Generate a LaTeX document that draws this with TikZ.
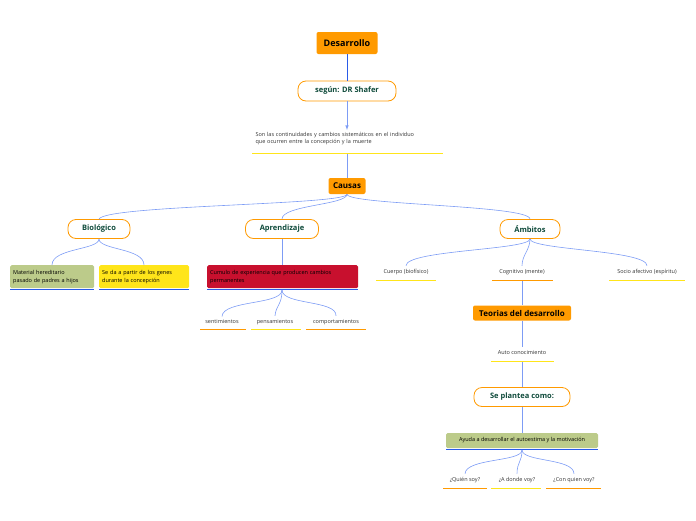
\documentclass[tikz,border=0pt]{standalone}
\usepackage{fontspec}
\setmainfont{Open Sans}
\definecolor{org}{HTML}{FF9A00}
\definecolor{dgreen}{HTML}{0E4A3A}
\definecolor{conn}{HTML}{7D9CF5}
\definecolor{yel}{HTML}{FFE51A}
\definecolor{olive}{HTML}{BCCB8A}
\definecolor{redb}{HTML}{C8102E}
\definecolor{blu}{HTML}{2A5BE8}
\begin{document}
\begin{tikzpicture}[x=1pt,y=-1pt,
 hub/.style={fill=org,rounded corners=2pt,font=\bfseries\fontsize{8}{9}\selectfont,inner sep=3pt},
 main/.style={fill=org,rounded corners=2pt,font=\bfseries\fontsize{9}{10}\selectfont,minimum height=22pt,minimum width=61pt},
 pill/.style={draw=org,fill=white,rounded corners=8pt,font=\bfseries\fontsize{7.5}{9}\selectfont,text=dgreen,line width=0.8pt,minimum height=20pt},
 lbl/.style={font=\fontsize{5.5}{7}\selectfont,text=black!80},
 box/.style={rounded corners=1.5pt,font=\fontsize{5.5}{8}\selectfont,align=left,text width=#1,minimum height=23pt,inner sep=3pt},
 c/.style={draw=conn,line width=0.6pt}]
\useasboundingbox (0,0) rectangle (696,520);
\node[main] (des) at (347,43) {Desarrollo};
\node[pill,minimum width=98pt] (seg) at (347,91) {según: DR Shafer};
\node[lbl,align=left,text width=185pt,anchor=north west] (son) at (252,129) {Son las continuidades y cambios sistemáticos en el individuo\\que ocurren entre la concepción y la muerte};
\draw[yel,line width=1pt] (252,153.5) -- (443,153.5);
\node[hub,minimum width=37pt,minimum height=16pt] (cau) at (347,186) {Causas};
\node[pill,minimum width=62pt,minimum height=19pt] (bio) at (99,229) {Biológico};
\node[pill,minimum width=73pt,minimum height=19pt] (apr) at (282,229) {Aprendizaje};
\node[pill,minimum width=60pt,minimum height=19pt] (amb) at (530,229) {Ámbitos};
\node[box=78pt,fill=olive,anchor=north west] (mat) at (10,265) {Material hereditario\\pasado de padres a hijos};
\node[box=84pt,fill=yel,anchor=north west] (seda) at (99,265) {Se da a partir de los genes\\durante la concepción};
\node[box=145pt,fill=redb,anchor=north west] (cum) at (207,265) {Cumulo de experiencia que producen cambios\\permanentes};
\foreach \a/\b in {10/94,99/189,207/358}{\draw[blu,line width=1pt] (\a,289) -- (\b,289);}
\node[lbl] (sen) at (222,322) {sentimientos};
\node[lbl] (pen) at (275,322) {pensamientos};
\node[lbl] (com) at (336,322) {comportamientos};
\draw[org,line width=1pt] (200,329.5) -- (246,329.5);
\draw[yel,line width=1pt] (251,329.5) -- (301,329.5);
\draw[org,line width=1pt] (306,329.5) -- (366,329.5);
\node[lbl] (cue) at (406,272) {Cuerpo (biofísico)};
\node[lbl] (cog) at (522,272) {Cognitivo (mente)};
\node[lbl] (soc) at (647,272) {Socio afectivo (espíritu)};
\draw[yel,line width=1pt] (376,280) -- (436,280);
\draw[org,line width=1pt] (492,280) -- (553,280);
\draw[yel,line width=1pt] (609,280) -- (685,280);
\node[hub,minimum width=98pt,minimum height=15pt] (teo) at (522,313) {Teorias del desarrollo};
\node[lbl] (aut) at (522,353) {Auto conocimiento};
\draw[yel,line width=1pt] (491,361) -- (554,361);
\node[pill,minimum width=96pt,minimum height=19pt] (sep) at (522,397) {Se plantea como:};
\node[rounded corners=1.5pt,fill=olive,font=\fontsize{5.5}{7}\selectfont,minimum width=152pt,minimum height=15pt] (ayu) at (522,440.5) {Ayuda a desarrollar el autoestima y la motivación};
\draw[blu,line width=1pt] (446,449) -- (598,449);
\node[lbl] (qui) at (465,480) {¿Quién soy?};
\node[lbl] (don) at (517,480) {¿A donde voy?};
\node[lbl] (con) at (574,480) {¿Con quien voy?};
\draw[org,line width=1pt] (443,488) -- (487,488);
\draw[yel,line width=1pt] (491,488) -- (541,488);
\draw[org,line width=1pt] (546,488) -- (601,488);
% connectors
\draw[c,blu] (des.south) -- (seg.north);
\draw[c,-{latex}] (seg.south) -- (347,130);
\draw[c] (347,154) -- (cau.north);
\draw[c] (cau.south) .. controls (347,205) and (105,205) .. (bio.north);
\draw[c] (cau.south) .. controls (347,205) and (282,205) .. (apr.north);
\draw[c] (cau.south) .. controls (347,205) and (530,205) .. (amb.north);
\draw[c] (bio.south) .. controls (99,250) and (52,248) .. (52,265);
\draw[c] (bio.south) .. controls (99,250) and (144,248) .. (144,265);
\draw[c] (apr.south) -- (282,265);
\draw[c] (282,290) .. controls (282,305) and (223,300) .. (sen.north);
\draw[c] (282,290) .. controls (282,305) and (276,305) .. (pen.north);
\draw[c] (282,290) .. controls (282,305) and (337,300) .. (com.north);
\draw[c] (amb.south) .. controls (530,250) and (406,250) .. (cue.north);
\draw[c] (amb.south) .. controls (530,250) and (522,255) .. (cog.north);
\draw[c] (amb.south) .. controls (530,250) and (647,250) .. (soc.north);
\draw[c] (522,281) -- (teo.north);
\draw[c] (teo.south) -- (aut.north);
\draw[c] (522,362) -- (sep.north);
\draw[c] (sep.south) -- (ayu.north);
\draw[c] (522,450) .. controls (522,462) and (466,458) .. (qui.north);
\draw[c] (522,450) .. controls (522,462) and (517,462) .. (don.north);
\draw[c] (522,450) .. controls (522,462) and (574,458) .. (con.north);
\end{tikzpicture}
\end{document}
